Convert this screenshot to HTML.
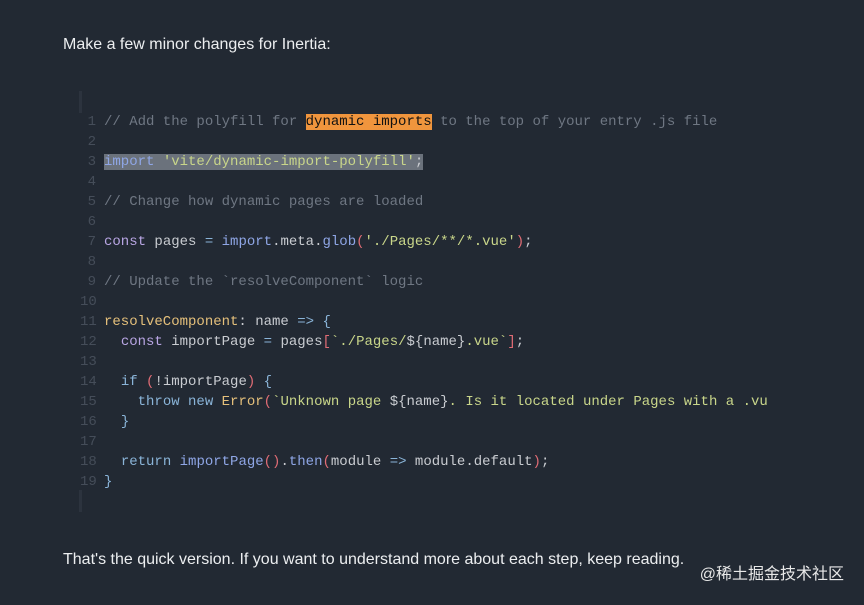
<!DOCTYPE html>
<html><head><meta charset="utf-8"><style>
body{margin:0;width:864px;height:604px;background:#222933;overflow:hidden;position:relative;font-family:"Liberation Sans",sans-serif;color:#e8eaed}
.p{position:absolute;left:63px;font-size:16px;color:#eceef0}
.bar{position:absolute;left:79px;width:3px;background:#2c333e}
.ln{position:absolute;font-family:"Liberation Mono",monospace;font-size:14px;white-space:pre;line-height:20px;height:20px}
.n{position:absolute;left:80px;width:16px;text-align:right;color:#454d59}
.c{left:104px;color:#c9ccd1}
.cm{color:#6f7783}.k{color:#b9a6e4}.s{color:#c9d68a}.f{color:#8fa6e6}.y{color:#e5c07b}.r{color:#e06c75}.o{color:#8ab4d8}
.hl{background:#f0953d;color:#111}
.sel{background:#6b727c}
.wm{position:absolute;right:20px;bottom:20px;font-family:"Liberation Sans","Noto Sans CJK SC",sans-serif;font-size:16px;color:#e8e8e8}
.wrap{position:absolute;left:0;top:1px;width:864px;height:604px}
</style></head><body>
<div class="p" style="top:36px">Make a few minor changes for Inertia:</div>
<div class="wrap">
<div class="bar" style="top:90px;height:22px"></div>
<div class="bar" style="top:489px;height:22px"></div>
<div class="ln n" style="top:111px">1</div><div class="ln c" style="top:111px"><span class="cm">// Add the polyfill for </span><span class="hl">dynamic imports</span><span class="cm"> to the top of your entry .js file</span></div>
<div class="ln n" style="top:131px">2</div>
<div class="ln n" style="top:151px">3</div><div class="ln c" style="top:151px"><span class="sel"><span class="f">import</span> <span class="s">'vite/dynamic-import-polyfill'</span>;</span></div>
<div class="ln n" style="top:171px">4</div>
<div class="ln n" style="top:191px">5</div><div class="ln c" style="top:191px"><span class="cm">// Change how dynamic pages are loaded</span></div>
<div class="ln n" style="top:211px">6</div>
<div class="ln n" style="top:231px">7</div><div class="ln c" style="top:231px"><span class="k">const</span> pages <span class="o">=</span> <span class="f">import</span>.meta.<span class="f">glob</span><span class="r">(</span><span class="s">'./Pages/**/*.vue'</span><span class="r">)</span>;</div>
<div class="ln n" style="top:251px">8</div>
<div class="ln n" style="top:271px">9</div><div class="ln c" style="top:271px"><span class="cm">// Update the `resolveComponent` logic</span></div>
<div class="ln n" style="top:291px">10</div>
<div class="ln n" style="top:311px">11</div><div class="ln c" style="top:311px"><span class="y">resolveComponent</span>: name <span class="o">=&gt;</span> <span class="o">{</span></div>
<div class="ln n" style="top:331px">12</div><div class="ln c" style="top:331px">  <span class="k">const</span> importPage <span class="o">=</span> pages<span class="r">[</span><span class="s">`./Pages/</span>${name}<span class="s">.vue`</span><span class="r">]</span>;</div>
<div class="ln n" style="top:351px">13</div>
<div class="ln n" style="top:371px">14</div><div class="ln c" style="top:371px">  <span class="o">if</span> <span class="r">(</span>!importPage<span class="r">)</span> <span class="o">{</span></div>
<div class="ln n" style="top:391px">15</div><div class="ln c" style="top:391px">    <span class="o">throw</span> <span class="o">new</span> <span class="y">Error</span><span class="r">(</span><span class="s">`Unknown page </span>${name}<span class="s">. Is it located under Pages with a .vu</span></div>
<div class="ln n" style="top:411px">16</div><div class="ln c" style="top:411px">  <span class="o">}</span></div>
<div class="ln n" style="top:431px">17</div>
<div class="ln n" style="top:451px">18</div><div class="ln c" style="top:451px">  <span class="o">return</span> <span class="f">importPage</span><span class="r">()</span>.<span class="f">then</span><span class="r">(</span>module <span class="o">=&gt;</span> module.default<span class="r">)</span>;</div>
<div class="ln n" style="top:471px">19</div><div class="ln c" style="top:471px"><span class="o">}</span></div>
</div>
<div class="p" style="top:551px">That's the quick version. If you want to understand more about each step, keep reading.</div>
<div class="wm">@稀土掘金技术社区</div>
</body></html>
